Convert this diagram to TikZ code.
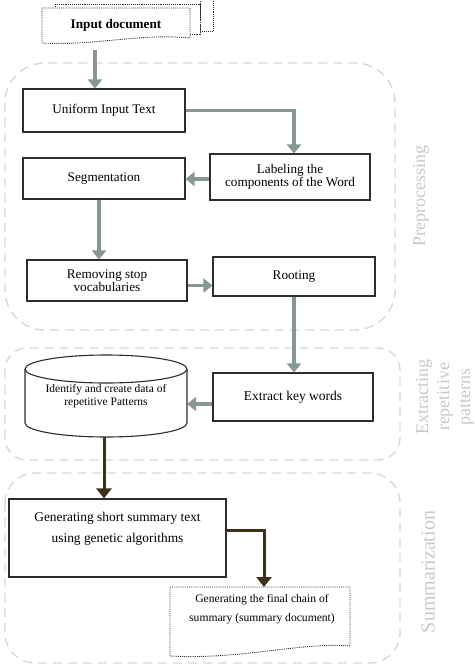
\documentclass[tikz,border=0pt]{standalone}
\usepackage{fontspec}
\setmainfont{Liberation Serif}
\usetikzlibrary{arrows.meta,calc}
\definecolor{garrow}{RGB}{135,152,148}
\definecolor{darrow}{RGB}{60,50,28}
\definecolor{regline}{RGB}{215,215,215}
\definecolor{sidetext}{RGB}{196,202,202}
\definecolor{boxline}{RGB}{45,45,45}
\tikzset{
  box/.style={draw=boxline, line width=1.1pt, fill=white, inner sep=2pt, align=center, font=\fontsize{13.2}{15}\selectfont},
  grayarrow/.style={draw=garrow, line width=3.2pt, -{Triangle[width=14pt,length=9pt]}},
  darkarrow/.style={draw=darrow, line width=3pt, -{Triangle[width=15pt,length=10pt]}},
  region/.style={draw=regline, line width=1.4pt, dash pattern=on 9pt off 6pt},
  docline/.style={draw=boxline, line width=0.9pt, densely dotted, fill=white},
  sidelabel/.style={text=sidetext, rotate=90, align=center, font=\fontsize{18}{21}\selectfont},
}
\begin{document}
\begin{tikzpicture}[x=1pt,y=-1pt]
\useasboundingbox (0,0) rectangle (474,669);
% regions
\draw[region, rounded corners=40pt] (5,63) rectangle (395,330);
\draw[region, rounded corners=22pt] (5,348) rectangle (400,460);
\draw[region, rounded corners=30pt] (5,473) rectangle (400,663);
% side labels
\node[sidelabel] (lpre) at (421,196) {Preprocessing};
\node[sidelabel] (lext) at (445,397) {Extracting\\repetitive\\patterns};
\node[sidelabel, font=\fontsize{20}{22}\selectfont] (lsum) at (428,572) {Summarization};
% input multi-document
\draw[docline] (66,-2) -- (213,-2) -- (213,31) -- (200,31) -- (200,-2);
\draw[docline] (55,4) -- (200,4) -- (200,34) -- (190,34);
\draw[docline] (55,4) -- (55,8);
\draw[docline] (42,8) -- (190,8) -- (190,38) .. controls (140,33) and (95,46) .. (42,43) -- cycle;
\node[font=\bfseries\fontsize{13.2}{15}\selectfont] (indoc) at (116,25) {Input document};
% boxes
\node[box, minimum width=162pt, minimum height=43pt] (uni) at (104,110.5) {Uniform Input Text};
\node[box, minimum width=160pt, minimum height=46pt] (lab) at (290,177) {Labeling the\\[-2pt]components of the Word};
\node[box, minimum width=162pt, minimum height=41pt] (seg) at (104,178.5) {Segmentation};
\node[box, minimum width=160pt, minimum height=41pt] (rem) at (107,280.5) {Removing stop\\[-2pt]vocabularies};
\node[box, minimum width=162pt, minimum height=39pt] (root) at (294,276.5) {Rooting};
\node[box, minimum width=160pt, minimum height=48pt, font=\fontsize{13.5}{16}\selectfont] (ext) at (293,397) {Extract key words};
% cylinder
\draw[draw=boxline, line width=1.1pt, fill=white] (25,369) -- (25,423) arc[start angle=180, end angle=360, x radius=81pt, y radius=14pt] -- (187,369);
\draw[draw=boxline, line width=1.1pt, fill=white] (106,369) ellipse[x radius=81pt, y radius=14pt];
\node[minimum width=162pt, minimum height=82pt, inner sep=0pt, align=center, font=\fontsize{11.5}{13.5}\selectfont] (cyl) at (106,396) {Identify and create data of\\repetitive Patterns};
\node[box, minimum width=217pt, minimum height=78pt, font=\fontsize{13.4}{21}\selectfont] (gen) at (117.5,538) {Generating short summary text\\using genetic algorithms\\\mbox{}};
% final document
\draw[docline] (170,587) -- (350,587) -- (350,646) .. controls (300,642) and (240,660) .. (170,656) -- cycle;
\node[align=center, font=\fontsize{11.6}{19}\selectfont] (fin) at (262,609) {Generating the final chain of\\summary (summary document)};
\coordinate (fintop) at (264,587);
% connectors
\draw[grayarrow] ([xshift=-21pt,yshift=-25pt]indoc.center) -- ([xshift=-9pt]uni.north);
\draw[grayarrow] (uni.east) -| ([xshift=4pt]lab.north);
\draw[grayarrow] ([yshift=-2pt]lab.west) -- ([yshift=-2pt]lab.west -| seg.east);
\draw[grayarrow] ([xshift=-5pt]seg.south) -- ([xshift=-5pt]seg.south |- rem.north);
\draw[grayarrow] ([yshift=-5pt]rem.east) -- ([yshift=-5pt]rem.east -| root.west);
\draw[grayarrow] (root.south) -- (root.south |- ext.north);
\draw[grayarrow] ([yshift=-7pt]ext.west) -- ([yshift=-7pt]ext.west -| cyl.east);
\draw[darkarrow] ([xshift=-2pt]cyl.south) -- ([xshift=-2pt]cyl.south |- gen.north);
\draw[darkarrow] ([yshift=8pt]gen.east) -| (fintop);
\end{tikzpicture}
\end{document}
